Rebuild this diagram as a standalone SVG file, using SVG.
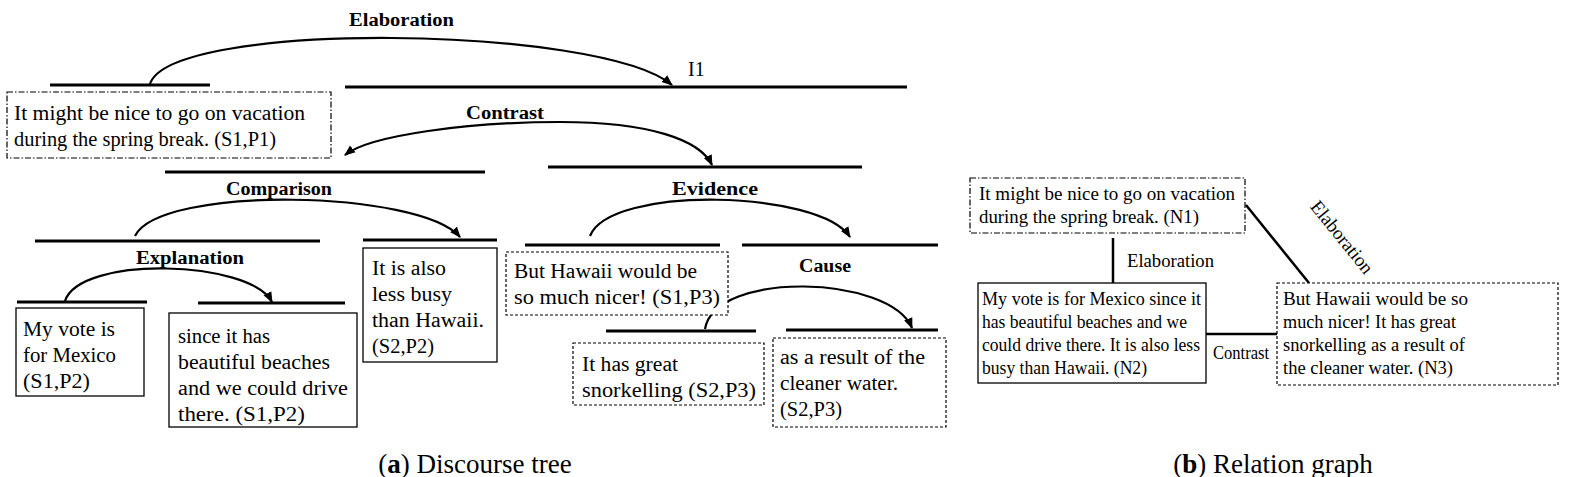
<svg xmlns="http://www.w3.org/2000/svg" width="1572" height="477" viewBox="0 0 1572 477">
<defs>
<marker id="ah" viewBox="0 0 10 10" refX="9" refY="5" markerWidth="5" markerHeight="5" orient="auto"><path d="M0,1 L10,5 L0,9 Z" fill="#000"/></marker>
<style>
text{font-family:"Liberation Serif","Times New Roman",serif;fill:#000}
.t{font-size:20px}
.g{font-size:19px}
.lb{font-size:18px;font-weight:bold}
.bar{stroke:#000;stroke-width:3}
.arc{fill:none;stroke:#000;stroke-width:2.2;marker-end:url(#ah)}
.solid{fill:#fff;stroke:#000;stroke-width:1.3}
.dash{fill:#fff;stroke:#000;stroke-width:1.2;stroke-dasharray:3,2}
.dd{fill:#fff;stroke:#000;stroke-width:1.2;stroke-dasharray:6,2,1.5,2}
.cap{font-size:27px}
</style>
</defs>
<g id="connectors">
<line class="bar" x1="50" y1="85" x2="210" y2="85"/>
<line class="bar" x1="345" y1="87" x2="907" y2="87"/>
<path class="arc" d="M150,84 C170,20 600,25 672,85"/>
<path class="arc" d="M560,122 C470,122 370,135 345,155"/>
<path class="arc" d="M560,122 C650,122 700,140 712,165"/>
<line class="bar" x1="165" y1="172" x2="485" y2="172"/>
<line class="bar" x1="548" y1="167" x2="862" y2="167"/>
<path class="arc" d="M135,236 C160,185 420,190 460,237"/>
<path class="arc" d="M590,236 C610,185 820,190 850,237"/>
<line class="bar" x1="35" y1="241" x2="320" y2="241"/>
<line class="bar" x1="363" y1="240" x2="497" y2="240"/>
<line class="bar" x1="525" y1="245" x2="720" y2="245"/>
<line class="bar" x1="742" y1="245" x2="938" y2="245"/>
<path class="arc" d="M65,301 C80,255 250,260 272,302"/>
<line class="bar" x1="17" y1="302" x2="147" y2="302"/>
<line class="bar" x1="198" y1="303" x2="345" y2="303"/>
<path class="arc" d="M705,329 C715,270 890,275 912,328"/>
<line class="bar" x1="606" y1="331" x2="756" y2="331"/>
<line class="bar" x1="786" y1="330" x2="938" y2="330"/>
<line x1="1113" y1="238" x2="1113" y2="283" stroke="#000" stroke-width="2.5"/>
<line x1="1206" y1="334" x2="1277" y2="334" stroke="#000" stroke-width="2.5"/>
<line x1="1246" y1="205" x2="1309" y2="283" stroke="#000" stroke-width="2.5"/>
</g>
<g id="labels">
<text class="lb" x="349" y="26" textLength="105" lengthAdjust="spacingAndGlyphs">Elaboration</text>
<text class="t" x="688" y="76">I1</text>
<text class="lb" x="466" y="119" textLength="78" lengthAdjust="spacingAndGlyphs">Contrast</text>
<text class="lb" x="226" y="195" textLength="106" lengthAdjust="spacingAndGlyphs">Comparison</text>
<text class="lb" x="672" y="195" textLength="86" lengthAdjust="spacingAndGlyphs">Evidence</text>
<text class="lb" x="136" y="264" textLength="108" lengthAdjust="spacingAndGlyphs">Explanation</text>
<text class="lb" x="799" y="272" textLength="52" lengthAdjust="spacingAndGlyphs">Cause</text>
<text class="g" x="1127" y="267" textLength="87" lengthAdjust="spacingAndGlyphs">Elaboration</text>
<text class="g" x="1213" y="359" textLength="56" lengthAdjust="spacingAndGlyphs">Contrast</text>
<text class="g" transform="translate(1341,238) rotate(51)" x="-44" y="5" textLength="88" lengthAdjust="spacingAndGlyphs">Elaboration</text>
</g>
<g id="s1p1"><rect class="dd" x="7" y="92" width="324" height="66"/>
<text class="t" x="14" y="120" textLength="291" lengthAdjust="spacingAndGlyphs">It might be nice to go on vacation</text><text class="t" x="14" y="146" textLength="262" lengthAdjust="spacingAndGlyphs">during the spring break. (S1,P1)</text></g>
<g id="myvote"><rect class="solid" x="16" y="308" width="128" height="88"/>
<text class="t" x="23" y="336" textLength="92" lengthAdjust="spacingAndGlyphs">My vote is</text><text class="t" x="23" y="362" textLength="93" lengthAdjust="spacingAndGlyphs">for Mexico</text><text class="t" x="23" y="388" textLength="67" lengthAdjust="spacingAndGlyphs">(S1,P2)</text></g>
<g id="since"><rect class="solid" x="169" y="313" width="188" height="114"/>
<text class="t" x="178" y="343" textLength="92" lengthAdjust="spacingAndGlyphs">since it has</text><text class="t" x="178" y="369" textLength="152" lengthAdjust="spacingAndGlyphs">beautiful beaches</text><text class="t" x="178" y="395" textLength="170" lengthAdjust="spacingAndGlyphs">and we could drive</text><text class="t" x="178" y="421" textLength="127" lengthAdjust="spacingAndGlyphs">there. (S1,P2)</text></g>
<g id="also"><rect class="solid" x="363" y="248" width="134" height="114"/>
<text class="t" x="372" y="275" textLength="74" lengthAdjust="spacingAndGlyphs">It is also</text><text class="t" x="372" y="301" textLength="80" lengthAdjust="spacingAndGlyphs">less busy</text><text class="t" x="372" y="327" textLength="112" lengthAdjust="spacingAndGlyphs">than Hawaii.</text><text class="t" x="372" y="353" textLength="62" lengthAdjust="spacingAndGlyphs">(S2,P2)</text></g>
<g id="hawaii"><rect class="dash" x="506" y="252" width="222" height="63"/>
<text class="t" x="514" y="278" textLength="183" lengthAdjust="spacingAndGlyphs">But Hawaii would be</text><text class="t" x="514" y="304" textLength="206" lengthAdjust="spacingAndGlyphs">so much nicer! (S1,P3)</text></g>
<g id="snork"><rect class="dash" x="573" y="343" width="191" height="62"/>
<text class="t" x="582" y="371" textLength="96" lengthAdjust="spacingAndGlyphs">It has great</text><text class="t" x="582" y="397" textLength="174" lengthAdjust="spacingAndGlyphs">snorkelling (S2,P3)</text></g>
<g id="result"><rect class="dash" x="773" y="338" width="173" height="89"/>
<text class="t" x="780" y="364" textLength="145" lengthAdjust="spacingAndGlyphs">as a result of the</text><text class="t" x="780" y="390" textLength="118" lengthAdjust="spacingAndGlyphs">cleaner water.</text><text class="t" x="780" y="416" textLength="62" lengthAdjust="spacingAndGlyphs">(S2,P3)</text></g>
<g id="n1"><rect class="dd" x="970" y="178" width="275" height="55"/>
<text class="g" x="979" y="200" textLength="256" lengthAdjust="spacingAndGlyphs">It might be nice to go on vacation</text><text class="g" x="979" y="223" textLength="220" lengthAdjust="spacingAndGlyphs">during the spring break. (N1)</text></g>
<g id="n2"><rect class="solid" x="978" y="283" width="228" height="100"/>
<text class="g" x="982" y="305" textLength="219" lengthAdjust="spacingAndGlyphs">My vote is for Mexico since it</text><text class="g" x="982" y="328" textLength="205" lengthAdjust="spacingAndGlyphs">has beautiful beaches and we</text><text class="g" x="982" y="351" textLength="218" lengthAdjust="spacingAndGlyphs">could drive there. It is also less</text><text class="g" x="982" y="374" textLength="165" lengthAdjust="spacingAndGlyphs">busy than Hawaii. (N2)</text></g>
<g id="n3"><rect class="dash" x="1277" y="283" width="281" height="102"/>
<text class="g" x="1283" y="305" textLength="185" lengthAdjust="spacingAndGlyphs">But Hawaii would be so</text><text class="g" x="1283" y="328" textLength="173" lengthAdjust="spacingAndGlyphs">much nicer! It has great</text><text class="g" x="1283" y="351" textLength="182" lengthAdjust="spacingAndGlyphs">snorkelling as a result of</text><text class="g" x="1283" y="374" textLength="170" lengthAdjust="spacingAndGlyphs">the cleaner water. (N3)</text></g>
<g id="captions">
<text class="cap" x="475" y="473" text-anchor="middle">(<tspan font-weight="bold">a</tspan>) Discourse tree</text>
<text class="cap" x="1273" y="473" text-anchor="middle">(<tspan font-weight="bold">b</tspan>) Relation graph</text>
</g>
</svg>
